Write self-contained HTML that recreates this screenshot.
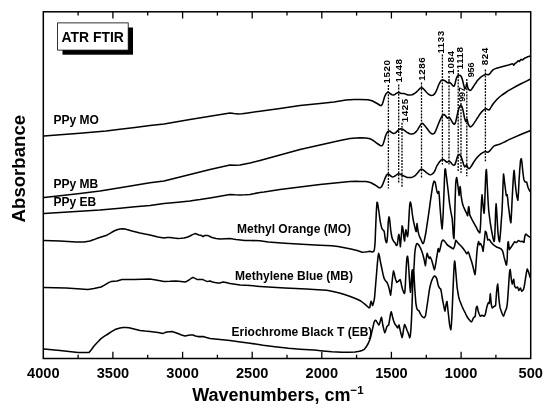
<!DOCTYPE html>
<html lang="en">
<head>
<meta charset="utf-8">
<title>ATR FTIR spectra</title>
<style>
html,body{margin:0;padding:0;background:#fff;}
body{width:550px;height:411px;overflow:hidden;}
svg{display:block;}
text{font-family:"Liberation Sans",Arial,sans-serif;font-weight:bold;fill:#000;}
.c{fill:none;stroke:#000;stroke-width:1.55;stroke-linejoin:round;stroke-linecap:round;}
.d{fill:none;stroke:#000;stroke-width:1.3;stroke-dasharray:1.9 1.2;}
.t{stroke:#000;stroke-width:1.3;}
</style>
</head>
<body>
<svg width="550" height="411" viewBox="0 0 550 411">
<rect x="0" y="0" width="550" height="411" fill="#fff"/>

<line class="t" x1="78.1" y1="11.8" x2="78.1" y2="15.6"/>
<line class="t" x1="78.1" y1="358.5" x2="78.1" y2="354.7"/>
<line class="t" x1="112.9" y1="11.8" x2="112.9" y2="18.5"/>
<line class="t" x1="112.9" y1="358.5" x2="112.9" y2="351.8"/>
<line class="t" x1="147.7" y1="11.8" x2="147.7" y2="15.6"/>
<line class="t" x1="147.7" y1="358.5" x2="147.7" y2="354.7"/>
<line class="t" x1="182.6" y1="11.8" x2="182.6" y2="18.5"/>
<line class="t" x1="182.6" y1="358.5" x2="182.6" y2="351.8"/>
<line class="t" x1="217.4" y1="11.8" x2="217.4" y2="15.6"/>
<line class="t" x1="217.4" y1="358.5" x2="217.4" y2="354.7"/>
<line class="t" x1="252.2" y1="11.8" x2="252.2" y2="18.5"/>
<line class="t" x1="252.2" y1="358.5" x2="252.2" y2="351.8"/>
<line class="t" x1="287.0" y1="11.8" x2="287.0" y2="15.6"/>
<line class="t" x1="287.0" y1="358.5" x2="287.0" y2="354.7"/>
<line class="t" x1="321.8" y1="11.8" x2="321.8" y2="18.5"/>
<line class="t" x1="321.8" y1="358.5" x2="321.8" y2="351.8"/>
<line class="t" x1="356.6" y1="11.8" x2="356.6" y2="15.6"/>
<line class="t" x1="356.6" y1="358.5" x2="356.6" y2="354.7"/>
<line class="t" x1="391.4" y1="11.8" x2="391.4" y2="18.5"/>
<line class="t" x1="391.4" y1="358.5" x2="391.4" y2="351.8"/>
<line class="t" x1="426.3" y1="11.8" x2="426.3" y2="15.6"/>
<line class="t" x1="426.3" y1="358.5" x2="426.3" y2="354.7"/>
<line class="t" x1="461.1" y1="11.8" x2="461.1" y2="18.5"/>
<line class="t" x1="461.1" y1="358.5" x2="461.1" y2="351.8"/>
<line class="t" x1="495.9" y1="11.8" x2="495.9" y2="15.6"/>
<line class="t" x1="495.9" y1="358.5" x2="495.9" y2="354.7"/>
<line class="d" x1="388.4" y1="85" x2="388.4" y2="188.5"/>
<line class="d" x1="398.7" y1="84.5" x2="398.7" y2="183"/>
<line class="d" x1="402.0" y1="122.8" x2="402.0" y2="187.3"/>
<line class="d" x1="421.5" y1="82.5" x2="421.5" y2="178.4"/>
<line class="d" x1="442.4" y1="54.5" x2="442.4" y2="164.5"/>
<line class="d" x1="449.0" y1="76" x2="449.0" y2="164.5"/>
<line class="d" x1="458.2" y1="70" x2="458.2" y2="171"/>
<line class="d" x1="461.0" y1="103" x2="461.0" y2="173"/>
<line class="d" x1="466.8" y1="79" x2="466.8" y2="176.2"/>
<line class="d" x1="485.4" y1="69.5" x2="485.4" y2="162.2"/>
<polyline class="c" points="44,136 60,134.8 80,133.2 106,131 120,129.3 135,127.4 150,125.5 164,124 190,119.4 210,116.2 230,113 234,113.6 238,114 242,113.7 246,113.2 260,111.2 280,108.4 300,105.6 320,103.5 334,102 346,100 354,99.5 360,99.4 368,99.8 372,100.8 375.8,102.8 378,104 380.2,105.5 381.3,105.6 382.4,104 383.5,100.5 384.6,96.7 386,93.8 387.8,92 389,92.6 390.4,93.8 392,94.7 393.4,95 395,94.4 396.3,93.4 397.5,92.8 398.8,92.6 400,92.9 401.4,93.4 404.3,93.6 406,94.3 408,95 410,95.1 412.3,94.7 414,93.8 416,92.3 418,90.5 419.6,88.7 420.5,88 421.4,87.7 422.3,88 423.3,88.7 424.8,90.3 426.2,92 428,93.8 429.9,95 431.3,95.5 432.8,95.3 434.3,94.2 435.7,92.3 437.2,88.8 438.6,85 439.8,82.6 440.8,81 441.7,80.2 442.6,79.9 443.8,80.2 445.2,80.9 446.3,81.8 447.3,82.8 448.2,82.5 449,82 450,82.6 451,83.5 452,84.7 453.1,86 453.9,86.2 454.6,85.3 455.3,82.6 456,79.4 456.9,77 457.8,75.8 459,75.3 460.4,75.5 461.2,76.4 461.9,78 462.7,80.8 463.4,83.8 464.1,86.6 464.8,88.8 465.4,88.4 466,86.7 466.4,84.6 466.8,83.8 467.2,85 467.7,87.4 468.4,89 469.2,90 470,90.4 470.7,90.3 471.7,89.2 472.8,87.5 474.3,85.2 475.8,83 477.3,80.6 478.7,79.2 480.5,77.4 482.3,76.1 483.8,75.2 485.3,74.6 486.8,74.5 488.2,74.7 489.3,74.3 490.2,73.2 491.3,71.6 493,69.9 494.7,68.9 496.5,68.2 498.4,67.7 502.8,66.5 508.6,65 512.5,63.8 513.1,64.2 513.7,65.3 514.3,64.6 515,63.4 516.6,62.5 518.2,60.7 518.9,60.9 519.5,61.4 520.1,60.5 520.7,59.6 521.6,59.6 522.6,59.9 523.5,59 524.5,58.3 527.1,57.1 530.3,56.1"/>
<polyline class="c" points="44,197.6 60,195.8 80,193.5 100,191 120,187.8 135,185.2 150,182.8 164,181 190,174.4 210,169.6 230,165 235,165.2 240,165 250,163 260,160.4 280,155 300,149.6 320,145 340,140.4 350,138.6 356,137.9 360,137.7 365.8,137.9 369,138.6 371.7,139.6 374,141 376,142.6 378,144 379.7,145.2 381,145.8 381.9,145.8 382.7,145 383.4,143.3 384.4,140 385.5,136 386.6,133.5 387.7,131.6 388.5,131 389.2,130.9 390.3,131.5 391.4,132.3 392.5,133.1 393.6,133.5 394.7,133.2 395.8,132.6 397,131.4 398.2,130.1 399.5,129.2 400.9,128.7 402,128.9 403.1,129.4 404.5,130.4 406,131.6 407.8,132.8 409.6,133.8 411.5,134.1 413.3,133.8 414.8,132.9 416.2,131.6 417.7,129.6 419.1,127.2 420.2,125.4 421.3,123.9 421.9,123.4 422.5,123.3 423.3,123.9 424.2,125 425.7,126.8 427.2,128.7 428.7,130.8 430.1,132.6 431.2,133.5 432.3,133.9 433.4,133.8 434.5,133.1 435.9,130.4 437.4,126.5 438.5,123.8 439.6,121.1 440.7,118.6 441.8,116.4 442.9,115 444,114.5 445.1,115.3 446.2,116.7 447,117.7 447.6,118.2 448.4,117.8 449.1,117.4 449.8,117.9 450.5,118.9 451.6,120.8 452.7,122.8 453.5,123.9 454.2,124.3 455,123.6 455.7,121.8 456.7,117.5 457.8,112.3 458.9,108.4 460,105.8 460.8,105.4 461.5,105.8 462.3,107.6 463,110.1 463.7,113.7 464.4,117.4 465.2,120.2 465.9,121.8 466.4,120.6 467,118.9 467.5,121 468.1,124 469.2,125.9 470.3,126.9 471.3,126.5 472.4,125.5 473.9,123.4 475.4,121.1 476.8,118.8 478.3,116.7 480,114 481.9,111.6 483.4,110.2 484.9,109.1 486,108.8 487,109.1 488.1,109.8 489.2,110 490.3,108.5 491.4,106.5 493.2,103.8 495.1,101.4 497.3,99 499.5,97 502,95 505,93 508,90.9 512,88.6 516.7,86 521,83.8 525.5,81.6 530.1,79.3"/>
<polyline class="c" points="44,213.4 60,212.5 80,211.3 100,210 120,208.2 135,206.8 150,205.5 164,203.6 178,202.2 190,201 193,200.4 200,199.6 210,198 220,196.2 230,194.4 235,194.8 240,195 245,194.8 250,194.4 260,192.5 264,192 280,189.6 300,187 320,184.6 340,182.4 350,181.4 356,181.3 360,181.4 365.8,181.5 368.5,182 371,182.8 372.8,183.7 374.6,184.7 376.4,185.9 378.2,187.2 379.3,187.7 380.4,187.8 381.5,186.8 382.6,184.7 383.7,181.9 384.8,178.9 385.9,176.4 387,174.5 387.8,174.1 388.5,174.1 389.6,174.9 390.7,176 391.8,176.7 392.8,177 394.3,176.4 395.8,175.5 397,174.5 398.2,173.8 399.5,173.9 400.9,174.5 402.3,175.2 403.8,176 405.6,176.8 407.4,177.4 409.6,177.6 411.8,177.4 413.6,176.6 415.5,175.3 417.3,173.2 419.1,170.9 420.2,169.7 421.3,169.1 422.4,169.4 423.5,170.1 425,171.3 426.4,172.6 427.9,173.7 429.3,174.5 430.4,174.7 431.5,174.5 433,173.4 434.5,171.6 435.6,169 436.7,166.2 438.2,163.8 439.6,161.8 441,160.2 442.5,159.3 443.6,159.7 444.7,160.4 445.8,161.4 446.9,162.3 447.6,161.9 448.4,161.4 449.1,161.3 449.8,161.4 450.9,162.6 452,164 453.1,164.9 454.2,165.2 455,164.4 455.7,162.6 456.5,159.8 457.4,156.7 458.3,155.1 459.3,154.5 460.2,155.2 461.2,156.7 462.1,159.5 463,162.6 463.8,165 464.7,166.9 465.6,166.2 466.6,164.7 467.3,166.3 468.1,168.1 468.8,168.5 469.5,168.4 470.6,167.2 471.7,165.5 473.5,162.5 475.4,159.6 477.2,157.4 479,155.5 480.8,153.9 482.7,152.6 484.2,151.9 485.6,151.6 486.7,151.9 487.8,152.3 489.2,151.4 490.7,149.7 492.5,147.5 494.3,145.8 496.9,144.9 499.5,144.2 502,143.1 505,141.7 508,140.1 513,137.9 519.6,135 525,132.8 530.1,130.7"/>
<polyline class="c" points="44,240.6 60,241 76,242 84,242 90,241 94,239.6 98,238 102,236.8 106,235.6 110,233.4 114,231 117,229.8 120,229 122.5,228.8 125,229 128.5,229.9 132,231 136,232 140,233 145,234.1 150,235 158,237 164,238 167,237.6 170,237.4 174,238 178,238.4 181,238.3 184,238 187,237.2 190,236 192.5,234.6 195,233.6 197,234.2 199,235 200.4,235.2 201.6,235.6 202.3,236.3 203,236.6 203.7,236.2 204.4,235.6 206,235.4 208,235.6 210,236.5 212,237.6 216,238.5 220,239 225,238.7 230,238.5 233,239.1 236,239.6 245,240.5 250,240.4 260,240.8 268.2,242 285,243.2 306.3,244.5 320,245.2 331.8,245.8 338,246.6 344.5,247.8 351,249 357.2,250.4 360,251.4 362.3,252.2 365,252 367.4,251.7 370,251.2 372.2,251.9 373.6,251.6 374.3,250 374.8,246.1 375.2,240 375.5,231.5 375.9,222 376.3,212.5 376.7,206 377,202.3 377.4,202.5 377.7,203.8 378.2,207 378.8,211 379.5,216 380.2,221.3 381,225 381.7,227.8 382.4,229.2 383.1,230 383.7,230.6 384.2,231.5 384.6,234 385,237.3 385.5,240 386.1,242 386.5,242.6 386.8,242.4 387.1,240 387.5,235.9 387.9,229 388.2,222.7 388.6,219 389,216.9 389.3,217.6 389.7,219.8 390.2,225 390.7,230 391.3,234 391.9,237.3 392.6,239.4 393.4,241 394.1,241.8 394.8,242.4 395.5,243.8 396.3,245.4 396.8,245.4 397.3,244.6 397.8,241 398.2,237.3 398.6,235.2 398.9,234.4 399.2,236 399.6,238.8 400,243 400.4,246.8 400.7,243 401.1,238.8 401.6,232 402.1,225.9 402.6,227 403.1,230 403.5,233.5 403.9,237.3 404.2,239.6 404.6,241 404.9,238 405.2,234.4 405.5,231.6 405.9,229.7 406.2,231 406.6,233 407,235 407.5,236.6 407.9,234.5 408.2,231.5 408.6,224 409,216.9 409.3,211 409.7,205.2 410,203 410.4,202 410.8,203.3 411.3,205.9 411.8,209.5 412.3,214 412.9,218 413.5,221.3 414,223.5 414.5,225.7 415,227.8 415.5,230 415.9,231.4 416.3,231.5 416.6,228 417,223.5 417.3,225.5 417.7,228.6 418.1,231.2 418.6,233.7 419.1,235.3 419.6,236.6 420.4,238.4 421.2,240.2 421.9,241.8 422.5,243.2 423,243.6 423.6,242.8 424.1,241.4 424.6,239.1 425.3,235.5 426,232 426.5,228.4 427.5,221.6 428.5,214.8 429.5,207.8 430.4,201.1 431.4,194.2 432.4,187.5 433.1,184 433.9,181.3 434.6,181.3 435.3,182.7 436,186.4 436.7,190.4 437.2,192.2 437.8,193.4 438.3,192.2 438.8,191.4 439.3,196 439.8,204.1 440.4,212 441.1,220.6 441.6,225.5 442.1,229 442.6,223 443.1,214.8 443.6,202 444.1,189.5 444.5,178 444.9,169.5 445.3,168.8 445.6,170 446,173.5 446.6,177.8 447.3,184 448,189.5 448.7,196 449.5,203.1 450.2,207.6 450.9,211.9 451.5,215 452.2,218.7 452.7,226 453.2,234.2 453.6,237.5 454,238.6 454.4,228 454.8,212.8 455.2,198 455.7,183.6 456.2,179 456.7,177.6 457.3,181 457.9,185.6 458.5,190.5 459.1,195.4 459.4,192 459.7,188.5 460.1,186.6 460.5,189 461.2,196.3 461.9,200.5 462.6,204.1 463.5,206.7 464.5,208.9 465.4,211 466.4,212.8 467.1,214.8 467.7,215.8 468,212 468.4,207.5 468.8,206.6 469.2,209 469.7,214.6 470.8,217.2 472.3,220.2 474.2,223.7 476.2,227.2 478,230.8 479.3,232.6 479.8,232.9 480.3,229 480.7,222 481.1,210 481.5,201 482,194.8 482.4,198 482.8,203 483.2,207 483.7,211.5 484.1,213.2 484.5,209 484.9,198 485.3,186 485.7,176 486.1,170.5 486.4,169.5 486.8,175 487.2,184 487.7,194 488.2,203 488.7,210.3 489.5,217 490.3,223 491.3,229 492.3,234.5 493.2,238.8 494,241.6 494.5,240 494.9,233 495.3,222 495.7,210 496.1,203.7 496.5,208 497.1,218 497.6,227 498.1,234 498.8,239.5 499.5,241.8 500,238 500.6,231.1 501.3,221 502,211.7 502.5,200 503,185 503.5,174 504,177 504.5,182 504.9,185 505.6,190.5 506.3,195.7 506.8,195.6 507.2,194.8 507.7,198.5 508.2,204.2 509,210.5 509.8,216.9 510.4,221 510.9,222.8 511.3,217 511.7,209 512.2,198 512.7,188.9 513.2,180 513.7,173 514.1,170.4 514.6,175 515.2,183.1 515.9,189.5 516.6,194.8 517.2,198 517.9,200.2 518.5,192 519.1,179.2 519.8,169 520.5,160.7 521,159 521.4,158.8 521.9,162 522.4,167.5 523.1,174 523.8,179.2 524.5,181 525.3,182.1 526,182.3 526.7,182.1 527.3,184.5 527.9,187 528.5,188.6 529.2,189.9 530,191.5"/>
<polyline class="c" points="44,287.4 66,288 88,289.4 94,288.6 101,287 104,285.4 107,283.6 109,282.4 111,281.6 114,281.2 117,281 119.5,280.2 122,279.6 128,279.5 134,279.6 142,279.3 150,279 156,280 164,281.4 170,281.3 176,281 181,281.6 185,282 187,281.2 189,280 191,278.5 193,277.4 195,278.4 197,279.4 200,279.4 203,279.6 205,280.6 207,281.4 208.5,281.3 210,281 212.5,281.9 215,282.6 217.5,282.9 220,283 221.5,282.4 223,282 226,282.6 230,283.4 235,284.2 240,285 245.3,285.2 250,285.6 260,286.4 268.2,287 285,288 306.3,289 318,289.7 326.7,290.3 333,291.4 339.4,292.9 344.5,294.4 349.6,296.2 353.5,297.7 357.2,299.2 360.8,301 363.4,303 365.7,304.9 367.5,306.5 369,307.8 369.8,307.5 370.4,304 371.1,301.3 371.8,303 372.5,305.6 373.2,304 373.9,301 374.5,298.1 375.2,290 375.8,282.6 376.6,273 377.4,263.1 378,257 378.7,253.4 379.4,256 380.3,261.1 381.3,266 382.3,270.9 383.2,275 384.2,278.7 385.5,280.8 387.1,282.6 388.1,285 389.1,288.4 389.9,292 390.6,295.2 391.3,290 392,282.6 392.7,276 393.5,270.9 394.2,273 394.9,276.7 395.8,280 396.8,282.4 397.8,281.6 398.8,281 399.5,280 400.2,279.6 400.9,282 401.7,286 402.6,289.5 403.7,292.3 404.4,293.5 405,291 405.6,280 406.1,270 406.6,261.1 407.1,257 407.5,256.2 408,259 408.5,265 409,272 409.5,280.6 410,288 410.5,292.3 411,288 411.4,279 411.9,272 412.3,269.8 412.7,275 413,281 413.4,276 413.8,270 414.2,264 414.7,254 415.2,249.5 415.7,246.7 416.3,244.6 416.9,243.5 417.6,243.7 418.4,244.5 419.4,246 420.5,248.1 421.6,250.8 422.7,254 423.5,257 424.2,259.8 424.8,263 425.4,265.7 425.8,263 426.1,259.8 426.6,256 427.1,253.3 427.7,254.6 428.3,256.9 428.8,257.8 429.3,258.4 429.7,257.4 430,256.9 430.7,258 431.5,259.8 432.3,262.2 433,264.9 433.7,267.8 434.4,269.8 435.1,267 435.9,262.7 436.6,258 437.3,254 437.8,250.5 438.3,248.5 438.8,250 439.3,251.8 439.8,250 440.3,248.1 441,244.8 441.7,241.6 442.5,240.3 443.2,240.1 444.5,241.1 445.9,243 447.4,245 448.8,246 450.3,247 451.8,248 453.2,248.9 453.9,247.8 454.6,246 455.2,243 455.8,240.2 456.9,241.5 458.1,243.1 460,245 462,247 463.5,249 464.9,250.9 465.9,252.5 466.8,253.8 467.5,253 468.2,251.9 469,253.5 469.9,256.4 470.8,259.2 471.8,262.3 472.8,266 473.8,270.1 474.5,273 475,274.6 475.5,271 476,264.2 476.6,256 477.2,248.9 477.9,244 478.6,241.5 479.1,243 479.6,244.8 480.1,244 480.6,243.5 481.3,245 482.1,246.7 482.6,249 483.1,251.3 483.6,247 484.1,242.8 484.7,237 485.3,231.3 485.8,231.8 486.3,232.4 487,236 487.7,240 488.4,239.8 489.2,239.5 490.2,240.8 491.2,242.5 492.2,243.6 494.2,245.4 497.1,247.3 500,248.3 501.2,249 502.4,250.6 503.2,253 503.9,256.4 504.7,259.5 505.5,262.3 506,264.4 506.5,265.2 506.9,262 507.2,258.4 507.5,250 507.8,243.8 508.1,242 508.4,241.8 508.9,246 509.4,249.6 510,248.5 510.7,247.7 511.7,246.2 512.7,244.8 513.6,243.2 514.6,241.8 515.6,242.2 516.6,242.4 517.5,241.4 518.5,240.5 519.5,241.1 520.5,241.5 522.4,241.3 523.2,242 524,242.4 524.4,239 524.9,236 525.4,234.6 525.9,234.1 526.8,234.9 527.7,235.6 528.6,236.3 530,237.2"/>
<polyline class="c" points="44,349 60,350.6 78,352.4 89,352.4 91.5,349.5 94,346 97.5,342.2 101,338.6 104.5,336.2 108,334 111.5,331.7 115,329.6 117.5,328.7 120,328 123,327.5 126,327.4 129,327.8 132,328.4 136,329.4 140,330.4 145,331.1 150,331.4 158,332.4 163,333.4 165,332.6 167,332 169.5,331.7 172,331.6 175,332.5 178,333.6 181.5,334.9 185,336 187.5,335.4 190,335 193,335 195.5,335.9 198,336.6 203,336.6 206.5,337.6 210,338.4 220,339.6 230,340.6 240.3,342 250,343.2 263.2,345.3 275,346.8 288.6,348.3 300,349.2 314,350.1 323,350.9 331.9,351.7 337,352 342,352.3 349.7,352.3 355,352 359.5,351.3 362,350.5 364.3,349.4 366.2,346.8 368.2,343.5 370.2,338.7 372.1,330.9 373.1,326.5 374.1,322.1 374.9,320.7 375.6,320.2 376.3,320.9 377,322.1 378,323.7 378.9,325 379.6,323.5 380.3,321.1 380.9,318.5 381.5,317.3 382.1,320.5 382.8,325 383.8,329.5 384.8,332.8 385.7,330.5 386.7,327 387.7,325.6 388.7,325 389.3,321.5 390,317.3 390.6,313.5 391.2,311.8 391.9,314 392.6,317.3 393.5,320.5 394.5,323.1 395.4,324.8 396.4,326 397.1,327.3 397.8,328 398.4,326 399,325 399.6,327.5 400.3,330.9 401.3,334.8 402.1,337.6 402.9,334 403.6,328.9 404.2,326 404.7,324.5 405.4,326 406.2,328 407.1,330.5 408.1,332.8 408.9,335.3 409.7,337.7 410.3,336 410.9,329.5 411.4,321 411.8,312 412.2,301 412.5,291 412.9,278 413.2,272 413.6,271.8 414,275 414.4,282 414.8,289.2 415.3,296 415.8,302.6 416.4,306.6 417.2,309.4 418,310.3 418.9,310.7 419.8,312.6 420.7,314.4 421.7,315.9 422.7,317 423.5,317.6 424.2,317.8 424.9,317 425.6,315.5 426.5,309.5 427.5,302.8 428.5,296 429.5,289.2 430.4,285 431.4,281.4 432.4,279 433.4,277.1 434.2,276.3 434.9,276 435.8,276.9 436.7,278.5 437.5,282 438.2,285.3 438.9,287 439.6,288.2 440.2,288.7 440.8,289.2 441.5,293 442.1,297 442.9,301.5 443.7,305.7 444.4,309 445,311 445.5,308 446,304.8 446.5,302.4 447,301.5 447.5,305.5 448,310.6 448.8,317.5 449.5,324.2 450.2,327.5 450.8,329.7 451.3,326 451.8,318.4 452.3,307 452.8,295 453.3,283 453.8,271.7 454.2,264.5 454.6,261 455,262.5 455.4,267 455.9,273 456.5,280.5 457.1,287.3 457.9,292.5 458.7,297 459.6,300.2 460.6,302.8 462,306.3 463.5,309.6 465,312.4 466.4,315.5 467.9,318 469.4,319.9 470.5,321.4 471.5,321.9 472.4,320.3 473.3,318 474.3,317.1 475.2,316.4 475.7,312 476.1,308.4 476.6,306.7 477.1,306.2 477.6,308 478.2,311.3 479.2,314 480.2,316.2 481.2,315.7 482.1,315.2 483.1,315.8 484.1,316.2 484.8,315.4 485.4,314.2 486.2,310 487,306.4 487.7,304.2 488.4,302.6 488.9,303.2 489.3,303.5 489.8,299 490.3,293.8 490.8,299 491.3,304.5 491.8,306.5 492.3,308 493.2,307.2 494.2,306.4 494.9,306 495.6,305.5 496,300 496.5,292.8 497.1,287 497.7,284.1 498.2,289 498.7,296.7 499.3,302.5 500,307.4 501,310.5 502,313.3 502.8,315 503.5,316.2 504.2,314.5 504.9,312.3 505.7,310.2 506.5,308.4 507,305.8 507.4,302.6 507.9,296 508.4,288.9 508.9,281 509.4,273.4 509.8,270.5 510.2,269.5 510.7,273.5 511.3,279.2 511.8,282 512.3,284.1 513,281.5 513.7,279.2 514.1,282 514.6,286 515.3,287.2 516,288 516.8,287.4 517.6,287 518.2,288.8 518.9,290.5 519.7,289 520.5,288 521.1,289.8 521.8,291.3 522.6,290.4 523.4,289.9 524.1,287 524.8,283.1 525.5,278.4 526.3,273.4 526.8,270.6 527.3,269.1 528,270.5 528.7,272.4 529.3,274.5 530,277"/>
<rect x="43.3" y="11.8" width="487.4" height="346.7" fill="none" stroke="#000" stroke-width="1.5"/>
<rect x="62.5" y="27.5" width="70.5" height="27.2" fill="#000"/>
<rect x="57.6" y="22.9" width="70.6" height="27.2" fill="#fff" stroke="#000" stroke-width="0.8"/>
<text x="92.7" y="41.9" font-size="13.9" text-anchor="middle">ATR FTIR</text>
<text x="43.3" y="378.4" font-size="14.6" text-anchor="middle">4000</text>
<text x="112.9" y="378.4" font-size="14.6" text-anchor="middle">3500</text>
<text x="182.6" y="378.4" font-size="14.6" text-anchor="middle">3000</text>
<text x="252.2" y="378.4" font-size="14.6" text-anchor="middle">2500</text>
<text x="321.8" y="378.4" font-size="14.6" text-anchor="middle">2000</text>
<text x="391.4" y="378.4" font-size="14.6" text-anchor="middle">1500</text>
<text x="461.1" y="378.4" font-size="14.6" text-anchor="middle">1000</text>
<text x="530.7" y="378.4" font-size="14.6" text-anchor="middle">500</text>
<text x="192.2" y="401.3" font-size="18">Wavenumbers, cm<tspan font-size="11.5" dy="-7.5">−1</tspan></text>
<text transform="translate(24.9,222.4) rotate(-90)" font-size="18.6">Absorbance</text>
<text x="53.6" y="124" font-size="12">PPy MO</text>
<text x="53.6" y="188" font-size="12">PPy MB</text>
<text x="53.6" y="206" font-size="12">PPy EB</text>
<text x="237" y="233" font-size="12">Methyl Orange (MO)</text>
<text x="235" y="280.2" font-size="12">Methylene Blue (MB)</text>
<text x="231.6" y="335.8" font-size="12">Eriochrome Black T (EB)</text>
<text transform="translate(390.0,83.6) rotate(-90)" font-size="9.8" letter-spacing="0.55">1520</text>
<text transform="translate(401.8,82.6) rotate(-90)" font-size="9.8" letter-spacing="0.55">1448</text>
<text transform="translate(424.9,80.8) rotate(-90)" font-size="9.8" letter-spacing="0.55">1286</text>
<text transform="translate(408.3,122.3) rotate(-90)" font-size="9.8" letter-spacing="0.55">1425</text>
<text transform="translate(443.9,53.6) rotate(-90)" font-size="9.8" letter-spacing="0.55">1133</text>
<text transform="translate(453.5,74.4) rotate(-90)" font-size="9.8" letter-spacing="0.55">1084</text>
<text transform="translate(462.6,69.3) rotate(-90)" font-size="9.8" letter-spacing="0.55">1118</text>
<text transform="translate(473.6,77.3) rotate(-90)" font-size="9" letter-spacing="-0.15">956</text>
<text transform="translate(465.4,101.8) rotate(-90)" font-size="9" letter-spacing="-0.15">997</text>
<text transform="translate(488.2,65.2) rotate(-90)" font-size="9.8" letter-spacing="0.55">824</text>
</svg>
</body>
</html>
